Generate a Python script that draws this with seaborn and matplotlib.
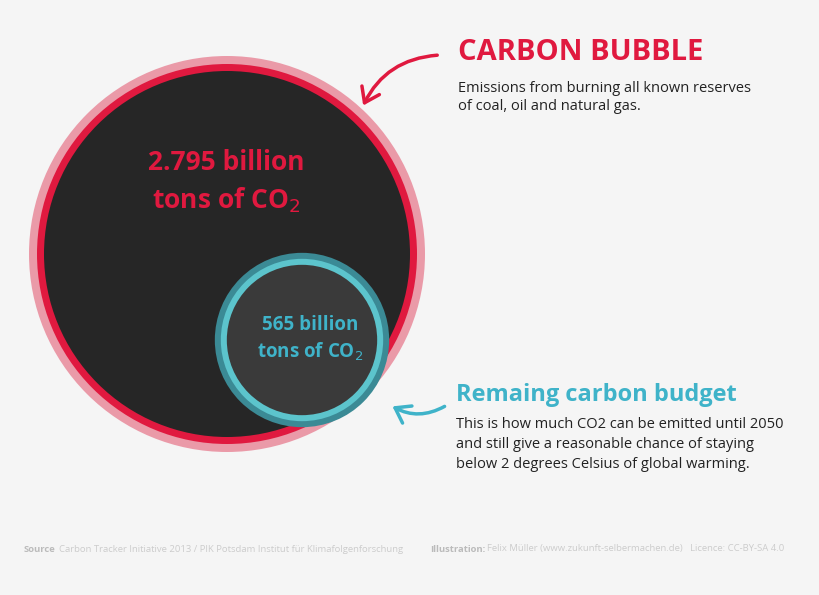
import matplotlib
matplotlib.use("Agg")
import matplotlib.pyplot as plt
import seaborn as sns
import numpy as np
from matplotlib.patches import Circle, FancyArrowPatch

sns.set_theme(style="white")
plt.rcParams['font.family'] = ['Open Sans', 'DejaVu Sans']

labels = ["Carbon bubble", "Remaining carbon budget"]
values = [2795, 565]  # billion tons of CO2
colors_ring = ["#e0193f", "#5cc4cc"]
colors_halo = ["#e98a9b", "#3b8a95"]
colors_fill = ["#262626", "#3a3a3a"]

fig = plt.figure(figsize=(8.2, 5.95), dpi=100)
fig.patch.set_facecolor("#f5f5f5")
ax = fig.add_axes([0, 0, 1, 1])
ax.set_facecolor("#f5f5f5")
ax.set_xlim(0, 820); ax.set_ylim(595, 0); ax.axis("off")

scale = 185 / np.sqrt(values[0])
r_big = scale * np.sqrt(values[0])
r_small = scale * np.sqrt(values[1])
cb = (227, 254)
cs = (302, 340)

ax.add_patch(Circle(cb, r_big + 13, color=colors_halo[0], alpha=0.85, lw=0))
ax.add_patch(Circle(cb, r_big + 5, color=colors_ring[0], lw=0))
ax.add_patch(Circle(cb, r_big - 2, color=colors_fill[0], lw=0))
ax.add_patch(Circle(cs, r_small + 4, color=colors_halo[1], lw=0))
ax.add_patch(Circle(cs, r_small - 2, color=colors_ring[1], lw=0))
ax.add_patch(Circle(cs, r_small - 8, color=colors_fill[1], lw=0))

ax.text(226, 162, "2.795 billion", color=colors_ring[0], fontsize=19, fontweight="bold", ha="center", va="center")
ax.text(226, 200, "tons of CO$_2$", color=colors_ring[0], fontsize=19, fontweight="bold", ha="center", va="center")
ax.text(310, 325, "565 billion", color="#3fb3c9", fontsize=13.5, fontweight="bold", ha="center", va="center")
ax.text(310, 352, "tons of CO$_2$", color="#3fb3c9", fontsize=13.5, fontweight="bold", ha="center", va="center")

ax.text(458, 52, "CARBON BUBBLE", color=colors_ring[0], fontsize=21, fontweight="bold", va="center")
ax.text(458, 88, "Emissions from burning all known reserves", color="#222", fontsize=10.5, va="center")
ax.text(458, 107, "of coal, oil and natural gas.", color="#222", fontsize=10.5, va="center")

ax.text(456, 395, "Remaing carbon budget", color="#3fb3c9", fontsize=17, fontweight="bold", va="center")
ax.text(456, 425, "This is how much CO2 can be emitted until 2050", color="#222", fontsize=10.5, va="center")
ax.text(456, 445, "and still give a reasonable chance of staying", color="#222", fontsize=10.5, va="center")
ax.text(456, 465, "below 2 degrees Celsius of global warming.", color="#222", fontsize=10.5, va="center")

ax.add_patch(FancyArrowPatch((440, 55), (362, 108), connectionstyle="arc3,rad=0.3",
                             arrowstyle="->,head_length=10,head_width=7", color=colors_ring[0], lw=2.5))
ax.add_patch(FancyArrowPatch((447, 405), (390, 405), connectionstyle="arc3,rad=-0.3",
                             arrowstyle="->,head_length=10,head_width=7", color="#3fb3c9", lw=2.5))

ax.text(24, 549, "Source", color="#bbb", fontsize=6.8, fontweight="bold", va="center")
ax.text(59, 549, "Carbon Tracker Initiative 2013 / PIK Potsdam Institut für Klimafolgenforschung",
        color="#ccc", fontsize=6.8, va="center")
ax.text(430, 549, "Illustration:", color="#bbb", fontsize=6.8, fontweight="bold", va="center")
ax.text(487, 549, "Felix Müller (www.zukunft-selbermachen.de)   Licence: CC-BY-SA 4.0",
        color="#ccc", fontsize=6.8, va="center")

fig.savefig("out.png", dpi=100, facecolor=fig.get_facecolor())
